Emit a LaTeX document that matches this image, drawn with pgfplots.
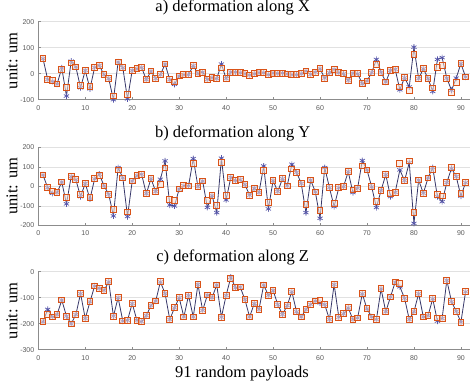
\documentclass[border=0pt]{standalone}
\usepackage{fontspec}
\setmainfont{Liberation Serif}
\setsansfont{Liberation Sans}
\usepackage{pgfplots}
\usepackage{pgfplotstable}
\pgfplotsset{compat=1.18}
\definecolor{linec}{RGB}{55,55,105}
\definecolor{starc}{RGB}{85,85,170}
\definecolor{sqc}{RGB}{217,83,25}
\definecolor{axc}{RGB}{140,140,140}
\definecolor{gridc}{RGB}{225,225,225}
\definecolor{tickc}{RGB}{90,90,90}

\pgfplotstableread{
x aS aB bS bB cS cB
1 58 58 58 58 -193 -193
2 -22 -22 -7 -7 -165 -145
3 -27 -30 -24 -36 -174 -174
4 -40 -40 -32 -32 -165 -165
5 17 22 22 22 -109 -109
6 -54 -86 -56 -90 -171 -171
7 41 48 50 50 -201 -201
8 26 26 34 34 -165 -165
9 -45 -54 -44 -53 -84 -84
10 13 13 15 15 -180 -180
11 -48 -58 -56 -65 -116 -116
12 24 24 38 38 -55 -55
13 32 32 55 62 -64 -64
14 -4 -4 2 2 -72 -72
15 -19 -19 -41 -41 -39 -39
16 -86 -100 -121 -152 -171 -171
17 45 45 84 96 -100 -100
18 23 23 43 43 -190 -190
19 -81 -97 -132 -155 -187 -187
20 13 13 27 27 -122 -122
21 19 19 55 55 -187 -187
22 24 24 62 62 -192 -192
23 -23 -23 -38 -38 -169 -169
24 10 10 39 39 -130 -130
25 -19 -19 -27 -27 -113 -113
26 -4 -4 10 36 -39 -39
27 37 37 94 130 -84 -84
28 -23 -23 -67 -96 -184 -184
29 -32 -41 -74 -101 -139 -139
30 -9 -9 -14 -14 -100 -100
31 -4 -4 3 3 -174 -174
32 -4 -4 2 2 -91 -91
33 31 31 115 142 -174 -174
34 0 0 -2 -2 -49 -49
35 6 6 27 27 -149 -149
36 -22 -22 -74 -108 -90 -90
37 -15 -15 -48 -48 -100 -100
38 -19 -19 -99 -135 -51 -51
39 22 37 121 144 -175 -175
40 -19 -19 -46 -70 -91 -91
41 6 6 46 46 -27 -21
42 6 6 29 29 -62 -62
43 4 4 34 34 -59 -59
44 0 0 9 9 -107 -107
45 -6 -6 -46 -46 -174 -174
46 0 0 -10 -10 -122 -122
47 4 4 -32 -32 -145 -145
48 4 4 79 104 -51 -51
49 -4 -4 -84 -116 -91 -91
50 2 2 29 29 -72 -72
51 1 1 -27 -27 -126 -126
52 2 2 39 39 -165 -165
53 -1 -1 2 2 -130 -130
54 -4 -4 89 113 -77 -77
55 -4 -4 72 72 -154 -154
56 0 0 14 14 -174 -174
57 10 10 -92 -135 -145 -145
58 -3 -3 32 32 -126 -126
59 6 6 -29 -29 -113 -113
60 19 19 -126 -164 -109 -120
61 -17 -17 79 96 -126 -126
62 4 4 -7 -7 -184 -184
63 17 17 -89 -104 -49 -49
64 4 4 -7 -7 -175 -175
65 0 0 -2 -2 -162 -162
66 -26 -26 75 75 -139 -139
67 2 2 -19 -32 -184 -184
68 0 0 -10 -10 -178 -178
69 -39 -39 104 132 -85 -85
70 -28 -28 84 84 -143 -143
71 4 4 -3 -3 -174 -174
72 35 55 -79 -109 -184 -184
73 6 6 -21 -21 -66 -66
74 -32 -32 60 60 -154 -154
75 13 13 -36 -53 -97 -97
76 17 17 -31 -31 -40 -40
77 -51 -62 115 84 -45 -58
78 -15 -15 29 29 -102 -102
79 -66 -51 130 121 -184 -184
80 73 102 -135 -190 -154 -154
81 -19 -19 32 32 -84 -84
82 19 19 -36 -36 -174 -174
83 -19 -19 43 43 -169 -169
84 -55 -68 87 96 -104 -104
85 23 55 -41 -53 -178 -190
86 32 62 -50 -79 -180 -180
87 -17 -17 19 19 -33 -33
88 -71 -64 97 92 -115 -115
89 -35 -17 50 50 -152 -152
90 39 39 -39 -50 -194 -194
91 -13 -13 19 19 -77 -77
}\data

\pgfplotsset{
  panel/.style={
    scale only axis, width=432pt, height=78pt,
    anchor=south west,
    xmin=0, xmax=92, xtick={0,10,...,90},
    axis x line*=bottom, axis y line*=left,
    axis line style={-, draw=axc, line width=0.6pt},
    ymajorgrids, grid style={draw=gridc, line width=0.5pt},
    tick align=inside, major tick length=2.5pt,
    tick style={draw=axc, line width=0.5pt},
    /pgf/number format/assume math mode=true,
    ticklabel style={font=\sffamily\fontsize{7}{8}\selectfont, text=tickc},
    xticklabel style={yshift=-2pt},
    yticklabel style={xshift=-0.5pt},
    title style={font=\fontsize{16.5}{18}\selectfont, at={(axis description cs:0.45,1)}, anchor=south, inner sep=0pt, yshift=0.5pt},
    ylabel={unit: um},
    ylabel style={font=\fontsize{16.5}{18}\selectfont, at={(axis description cs:-0.061,0.5)}, anchor=center, rotate=0},
  },
  blueline/.style={color=linec, line width=0.8pt, mark=asterisk, mark size=3pt, mark options={draw=starc, line width=0.7pt}},
  orsq/.style={only marks, mark=square*, mark size=2.9pt, mark options={draw=sqc, line width=1pt, fill=sqc!20, fill opacity=0.55}},
}

\begin{document}
\begin{tikzpicture}
\useasboundingbox (0,0) rectangle (474pt,387pt);
\begin{axis}[panel, at={(38.3pt,287.3pt)}, ymin=-100, ymax=200, ytick={-100,0,100,200},
  title={a)~deformation along X}]
\addplot[blueline] table[x=x, y=aB] {\data};
\addplot[orsq] table[x=x, y=aS] {\data};
\end{axis}
\begin{axis}[panel, at={(38.3pt,161.7pt)}, ymin=-200, ymax=200, ytick={-200,-100,0,100,200},
  title={b)~deformation along Y}]
\addplot[blueline] table[x=x, y=bB] {\data};
\addplot[orsq] table[x=x, y=bS] {\data};
\end{axis}
\begin{axis}[panel, at={(38.3pt,37.3pt)}, ymin=-300, ymax=0, ytick={-300,-200,-100,0},
  title={c)~deformation along Z},
  xlabel={91 random payloads},
  xlabel style={font=\fontsize{16.5}{18}\selectfont, at={(axis description cs:0.4715,-0.31)}, anchor=center}]
\addplot[blueline] table[x=x, y=cB] {\data};
\addplot[orsq] table[x=x, y=cS] {\data};
\end{axis}
\end{tikzpicture}
\end{document}
